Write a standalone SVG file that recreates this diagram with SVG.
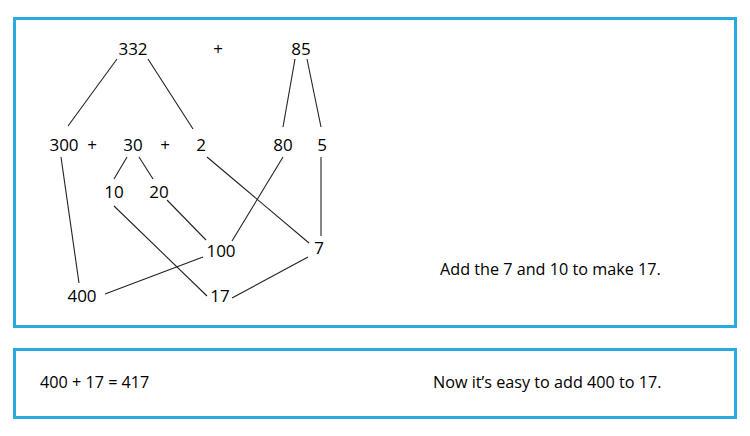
<svg xmlns="http://www.w3.org/2000/svg" width="750" height="436" viewBox="0 0 750 436">
<style>
.box{fill:#fff;stroke:#29abe2;stroke-width:3}
.t{font-family:"Open Sans","Liberation Sans",sans-serif;font-size:17px;fill:#000;text-anchor:middle}
.s{font-family:"Open Sans","Liberation Sans",sans-serif;font-size:16.2px;fill:#000}
.c line{stroke:#222;stroke-width:1.1}
</style>
<rect width="750" height="436" fill="#fff"/>
<g id="panel-top"><rect class="box" x="14.5" y="18.5" width="721" height="308"/></g>
<g id="panel-bottom"><rect class="box" x="14.5" y="349.5" width="721" height="68"/></g>
<g class="c" id="connectors">
<line x1="117" y1="59" x2="68" y2="126"/>
<line x1="148" y1="59" x2="193" y2="129"/>
<line x1="295" y1="59" x2="283" y2="127"/>
<line x1="307" y1="59" x2="321" y2="127"/>
<line x1="61" y1="157" x2="79" y2="283"/>
<line x1="127" y1="157" x2="114" y2="179"/>
<line x1="139" y1="157" x2="153" y2="179"/>
<line x1="207" y1="157" x2="309" y2="243"/>
<line x1="283" y1="157" x2="232" y2="241"/>
<line x1="321" y1="157" x2="321" y2="236"/>
<line x1="167" y1="200" x2="206" y2="240"/>
<line x1="114" y1="206" x2="207" y2="296"/>
<line x1="203" y1="257" x2="105" y2="294"/>
<line x1="308" y1="257" x2="232" y2="298"/>
</g>
<g id="n332"><text class="t" x="133" y="55">332</text></g>
<g id="plus1"><text class="t" x="218" y="55">+</text></g>
<g id="n85"><text class="t" x="301" y="55">85</text></g>
<g id="n300"><text class="t" x="64" y="151">300</text></g>
<g id="plus2"><text class="t" x="92" y="151">+</text></g>
<g id="n30"><text class="t" x="133" y="151">30</text></g>
<g id="plus3"><text class="t" x="165" y="151">+</text></g>
<g id="n2"><text class="t" x="201" y="151">2</text></g>
<g id="n80"><text class="t" x="283" y="151">80</text></g>
<g id="n5"><text class="t" x="322" y="151">5</text></g>
<g id="n10"><text class="t" x="114" y="197.5">10</text></g>
<g id="n20"><text class="t" x="159" y="197.5">20</text></g>
<g id="n100"><text class="t" x="221" y="257">100</text></g>
<g id="n7"><text class="t" x="319" y="254">7</text></g>
<g id="n400"><text class="t" x="82" y="302">400</text></g>
<g id="n17"><text class="t" x="220" y="302">17</text></g>
<g id="note1"><text class="s" x="440" y="275">Add the 7 and 10 to make 17.</text></g>
<g id="eq"><text class="s" x="40" y="388">400 + 17 = 417</text></g>
<g id="note2"><text class="s" x="433" y="388">Now it’s easy to add 400 to 17.</text></g>
</svg>
